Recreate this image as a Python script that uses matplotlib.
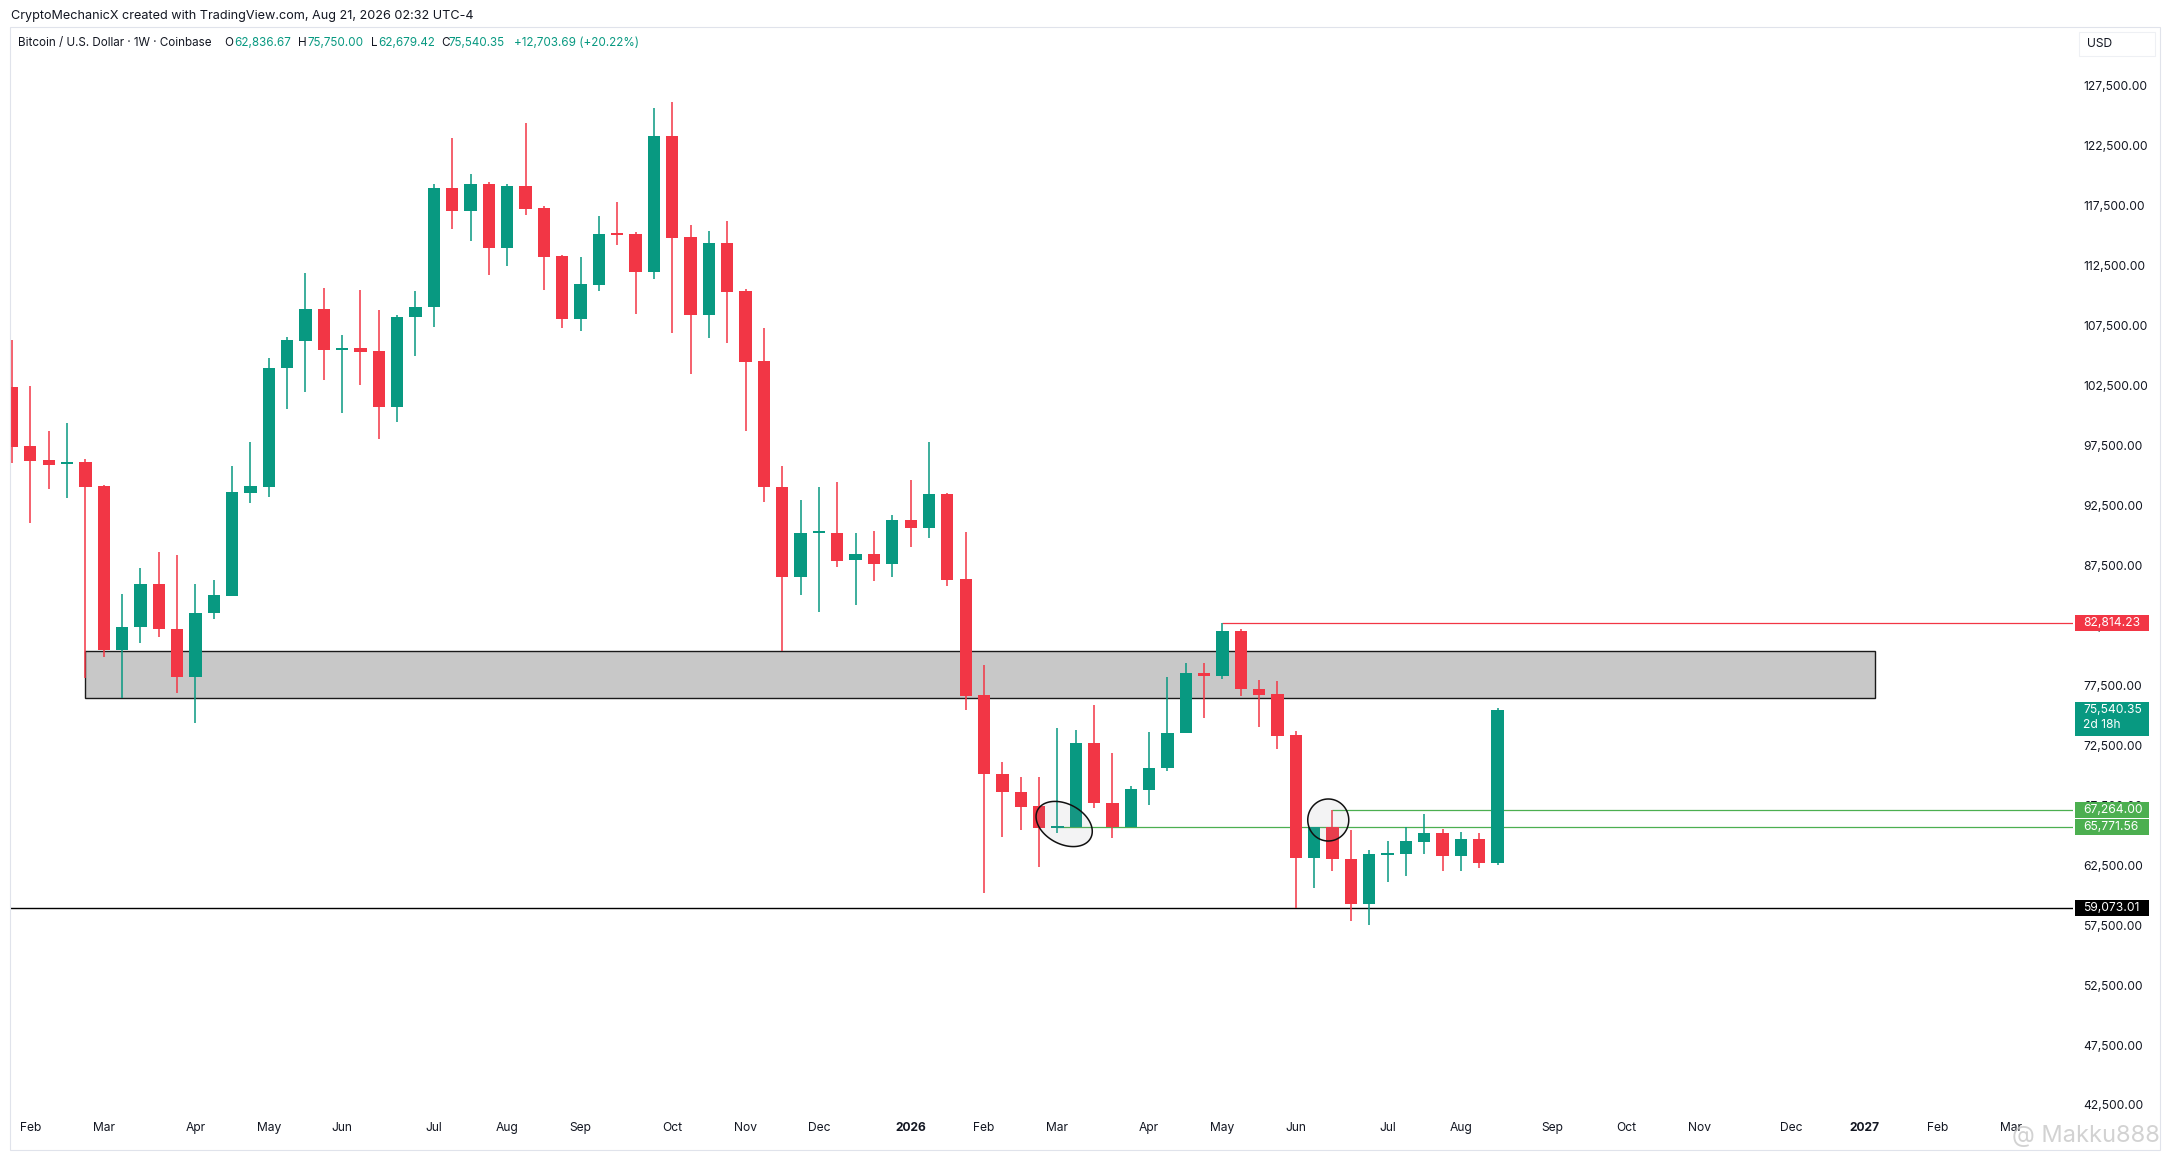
import numpy as np
import pandas as pd
import matplotlib
matplotlib.use("Agg")
import matplotlib.pyplot as plt
from matplotlib.patches import Rectangle, Polygon

plt.rcParams['font.family'] = ['Inter', 'DejaVu Sans']

# weekly BTC/USD candles, first bar = week of 2025-01-27
start_week = "2025-01-27"
opens = [102530, 97585, 96417, 96050, 96250, 94249, 80571, 82464, 86075, 82297,
         78295, 83646, 85100, 93669, 94190, 104065, 106367, 108986, 105600, 105733,
         105508, 100862, 108318, 109152, 119077, 117209, 119435, 114123, 119269, 117409,
         113431, 108151, 111012, 115265, 115265, 112121, 123439, 115040, 108510, 114489,
         110537, 104674, 94190, 86685, 90300, 90354, 88077, 88577, 87743, 91413,
         90719, 93581, 86467, 76818, 70229, 68703, 67561, 65701, 65785, 72790,
         67786, 65835, 68895, 70704, 73674, 78628, 78403, 82156, 77294, 76901,
         73482, 63199, 65771.56, 63115, 59362, 63474, 63557, 64584, 65284, 63391,
         64808, 62836.67]
highs = [106425, 102614, 98861, 99528, 96525, 94332, 85241, 87385, 88769, 88494,
         86075, 86409, 95917, 97943, 104899, 106675, 111988, 110737, 106842, 110595,
         108927, 108510, 110537, 119435, 123247, 120269, 119627, 119435, 124548, 117601,
         113514, 113373, 116767, 117959, 115457, 125749, 126299, 116016, 115541, 116375,
         110653, 107401, 95917, 93081, 94190, 94607, 90304, 90521, 91830, 94749,
         97943, 93690, 90437, 79320, 71255, 70004, 69954, 74040, 73899, 75984,
         71957, 69229, 73757, 78345, 79510, 79460, 82814.23, 82297, 78069, 78010,
         73841, 65771.56, 67264.00, 65559, 63891, 64667, 65781, 66894, 65617, 65417,
         65284, 75750.00]
lows = [96170, 91188, 93975, 93223, 78236, 80012, 76543, 81130, 81631, 76961,
        74458, 83132, 85100, 92806, 93356, 100645, 102113, 103089, 100312, 102672,
        98143, 99612, 105091, 107484, 115657, 114707, 111846, 112597, 116850, 110595,
        107401, 107201, 110537, 114348, 108594, 111487, 106984, 103589, 106567, 106200,
        98861, 92940, 80529, 85158, 83764, 87518, 84324, 86351, 86685, 89186,
        89887, 85909, 75567, 60278, 64998, 65559, 62498, 65284, 65785, 67368,
        64869, 65835, 67644, 70504, 73674, 74875, 78128, 76735, 74174, 72290,
        59073.01, 60698, 62165, 57996, 57636, 61247, 61723, 63557, 62165, 62165,
        62365, 62679.42]
closes = [97526, 96359, 96000, 96200, 94190, 80571, 82464, 86075, 82297, 78295,
          83646, 85158, 93723, 94249, 104065, 106425, 108986, 105591, 105750, 105450,
          100862, 108368, 109202, 119077, 117209, 119435, 114123, 119269, 117350, 113373,
          108151, 111095, 115265, 115182, 112121, 123439, 114957, 108510, 114489, 110453,
          104565, 94140, 86685, 90354, 90420, 88018, 88577, 87743, 91413, 90719,
          93581, 86409, 76735, 70229, 68703, 67502, 65701, 65893, 72790, 67786,
          65835, 68954, 70704, 73674, 78628, 78427, 82156, 77294, 76818, 73424,
          63199, 65771.56, 63115, 59362, 63557, 63617, 64642, 65284, 63391, 64808,
          62782, 75540.35]

# drawn levels
zone_low, zone_high = 76543, 80512
zone_from, zone_to = 4, 101.6
red_level, red_from = 82814.23, 66
green_hi_level, green_hi_from = 67264.00, 72
green_lo_level, green_lo_from = 65771.56, 57
black_level = 59073.01
last_price = 75540.35
# circled spots: (bar index, price)
ring_a = (57.37, 66060)
ring_b = (71.77, 66393)

price_ticks = np.arange(42500, 127501, 5000)

UP = "#089981"
DOWN = "#f23645"
GREEN = "#4caf50"
TXT = "#131722"

W, H = 2170, 1161
fig = plt.figure(figsize=(W / 100, H / 100), dpi=100)
fig.patch.set_facecolor("white")

pl, pr, pt, pb = 10, 2073, 27, 1117
ax = fig.add_axes([pl / W, 1 - pb / H, (pr - pl) / W, (pb - pt) / H])
ax.set_facecolor("white")
for s in ax.spines.values():
    s.set_visible(False)
ax.set_xticks([])
ax.set_yticks([])

bar_px = 18.34
x0_px = 12
xmin = (pl - x0_px) / bar_px
xmax = (pr - x0_px) / bar_px
ax.set_xlim(xmin, xmax)
ax.set_ylim(41623, 132529)

idx = np.arange(len(opens))
o = np.array(opens, float)
h = np.array(highs, float)
l = np.array(lows, float)
c = np.array(closes, float)
up = c >= o
cols = np.where(up, UP, DOWN)

# zone box
ax.add_patch(Rectangle((zone_from, zone_low), zone_to - zone_from, zone_high - zone_low,
                       facecolor="#c8c8c8", edgecolor="#1a1a1a", lw=1.0, zorder=1))

# candles
ax.vlines(idx, l, h, colors=cols, lw=1.1, zorder=3)
body_lo = np.minimum(o, c)
body_h = np.maximum(np.abs(c - o), 160)
ax.bar(idx, body_h, bottom=body_lo, width=0.67, color=cols, edgecolor="none", zorder=3)

# levels
ax.hlines(red_level, red_from, xmax, colors=DOWN, lw=0.9, zorder=2)
ax.hlines(green_hi_level, green_hi_from, xmax, colors=GREEN, lw=0.9, zorder=2)
ax.hlines(green_lo_level, green_lo_from, xmax, colors=GREEN, lw=0.9, zorder=2)
ax.hlines(black_level, xmin, xmax, colors="black", lw=1.0, zorder=2)


def ring(center, w_px, h_px, angle):
    t = np.linspace(0, 2 * np.pi, 200)
    px, py = ax.transData.transform(center)
    a = np.deg2rad(angle)
    ex = w_px / 2 * np.cos(t)
    ey = h_px / 2 * np.sin(t)
    xs = px + ex * np.cos(a) - ey * np.sin(a)
    ys = py + ex * np.sin(a) + ey * np.cos(a)
    pts = ax.transData.inverted().transform(np.column_stack([xs, ys]))
    ax.add_patch(Polygon(pts, closed=True, facecolor=(0.55, 0.55, 0.6, 0.1),
                         edgecolor="#111111", lw=1.1, zorder=4))


ring(ring_a, 60, 40, -28)
ring(ring_b, 41, 42, 0)

# price axis labels
yt = ax.get_yaxis_transform()
lab_x = (2083 - pl) / (pr - pl)
for p in price_ticks:
    ax.text(lab_x, p, f"{p:,.2f}", transform=yt, fontsize=8.7, color=TXT,
            va="center", ha="left", clip_on=False)

px_price = 83.4
box_x = (2075 - pl) / (pr - pl)
box_w = 74 / (pr - pl)


def price_box(level, color, text, rows=1):
    hh = 16 * px_price
    top = level + hh / 2
    ax.add_patch(Rectangle((box_x, top - hh * rows - (rows - 1) * 2 * px_price),
                           box_w, hh * rows + (rows - 1) * 2 * px_price,
                           transform=yt, facecolor=color, edgecolor="none",
                           clip_on=False, zorder=6))
    ax.text(lab_x, level, text, transform=yt, fontsize=8.7, color="white",
            va="center", ha="left", clip_on=False, zorder=7)


price_box(red_level, DOWN, f"{red_level:,.2f}")
price_box(last_price, UP, f"{last_price:,.2f}", rows=2)
ax.text(lab_x, last_price - 14.5 * px_price, "2d 18h", transform=yt, fontsize=8.7,
        color="white", va="center", ha="left", clip_on=False, zorder=7)
price_box(green_hi_level, GREEN, f"{green_hi_level:,.2f}")
price_box(green_lo_level, GREEN, f"{green_lo_level:,.2f}")
price_box(black_level, "black", f"{black_level:,.2f}")

# time axis
weeks = pd.date_range(start_week, periods=112, freq="7D")
xt = ax.get_xaxis_transform()
ty = -(1128 - pb) / (pb - pt)
for i in range(1, len(weeks)):
    if weeks[i].month != weeks[i - 1].month:
        if weeks[i].month == 1:
            ax.text(i, ty, str(weeks[i].year), transform=xt, fontsize=8.7,
                    fontweight="bold", color=TXT, ha="center", va="center", clip_on=False)
        else:
            ax.text(i, ty, weeks[i].strftime("%b"), transform=xt, fontsize=8.7,
                    color=TXT, ha="center", va="center", clip_on=False)

# pane frame
fig.add_artist(Rectangle((pl / W, 1 - 1150 / H), (2160 - pl) / W, (1150 - pt) / H,
                         transform=fig.transFigure, fill=False, edgecolor="#e0e3eb", lw=0.8))

# USD button
fig.add_artist(Rectangle((2079 / W, 1 - 56 / H), 76 / W, 24 / H, transform=fig.transFigure,
                         facecolor="white", edgecolor="#eef0f4", lw=0.8))
fig.text(2087 / W, 1 - 44 / H, "USD", fontsize=8.7, color=TXT, va="center")

# header
fig.text(11 / W, 1 - 15.7 / H, "CryptoMechanicX created with TradingView.com, Aug 21, 2026 02:32 UTC-4",
         fontsize=9.1, color=TXT, va="center")
hy = 1 - 42.7 / H
fig.text(18 / W, hy, "Bitcoin / U.S. Dollar \u00b7 1W \u00b7 Coinbase", fontsize=8.4, color=TXT, va="center")
for lab, lx, val, vx in [("O", 224.6, "62,836.67", 234), ("H", 298, "75,750.00", 308),
                         ("L", 370.5, "62,679.42", 378.6), ("C", 441, "75,540.35", 448.7)]:
    fig.text(lx / W, hy, lab, fontsize=8.4, color=TXT, va="center")
    fig.text(vx / W, hy, val, fontsize=8.4, color=UP, va="center")
fig.text(514 / W, hy, "+12,703.69 (+20.22%)", fontsize=8.4, color=UP, va="center")

# watermark (sits over the last month label, as in the source screenshot)
fig.text(2160 / W, 1 - 1136 / H, "@ Makku888", fontsize=17, color="#c4c4c4",
         alpha=0.75, ha="right", va="center", zorder=10)

fig.savefig("out.png", dpi=100, facecolor="white")
